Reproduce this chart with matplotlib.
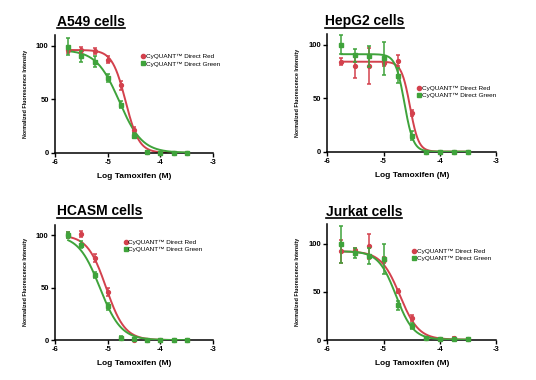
import numpy as np
import matplotlib
matplotlib.use("Agg")
import matplotlib.pyplot as plt
from matplotlib.lines import Line2D

plt.rcParams["font.family"] = ["Liberation Sans", "DejaVu Sans"]
plt.rcParams["axes.unicode_minus"] = False

# -------------------------------------------------------
# Data
# -------------------------------------------------------
log_conc = [-5.75, -5.5, -5.25, -5.0, -4.75, -4.5, -4.25, -4.0, -3.75, -3.5]

titles = ["A549 cells", "HepG2 cells", "HCASM cells", "Jurkat cells"]
series_labels = ["CyQUANT™ Direct Red", "CyQUANT™ Direct Green"]

a549_red = [96, 96, 95, 87, 63, 21, 1, 0, 0, 0]
a549_red_err = [3, 3, 3, 3, 4, 3, 1, 0, 0, 0]
a549_green = [99, 90, 85, 70, 45, 16, 1, 0, 0, 0]
a549_green_err = [8, 5, 5, 4, 3, 2, 1, 0, 0, 0]

hepg2_red = [84, 80, 80, 83, 85, 36, 0, 0, 0, 0]
hepg2_red_err = [3, 11, 17, 3, 5, 3, 0, 0, 0, 0]
hepg2_green = [100, 90, 89, 87, 71, 15, 0, 0, 0, 0]
hepg2_green_err = [9, 6, 10, 15, 7, 4, 1, 0, 0, 0]

hcasm_red = [100, 101, 78, 46, 2, 0, 0, 0, 0, 0]
hcasm_red_err = [3, 3, 4, 4, 1, 0, 0, 0, 0, 0]
hcasm_green = [100, 91, 62, 32, 2, 1, 0, 0, 0, 0]
hcasm_green_err = [3, 3, 3, 3, 2, 1, 0, 0, 0, 0]

jurkat_red = [92, 93, 97, 83, 51, 23, 2, 1, 2, 1]
jurkat_red_err = [12, 2, 13, 3, 2, 3, 1, 1, 1, 1]
jurkat_green = [99, 90, 87, 84, 36, 15, 2, 1, 1, 1]
jurkat_green_err = [19, 5, 8, 16, 5, 3, 1, 1, 1, 1]

# fitted sigmoid parameters: top, bottom, logIC50, hill slope
a549_red_fit = [96, 0, -4.66, 3.4]
a549_green_fit = [96, 0, -4.78, 2.0]
hepg2_red_fit = [84, 0, -4.53, 5.7]
hepg2_green_fit = [91, 0, -4.63, 5.5]
hcasm_red_fit = [100, 0, -5.03, 2.45]
hcasm_green_fit = [100, 0, -5.15, 2.15]
jurkat_red_fit = [92, 0.5, -4.71, 2.6]
jurkat_green_fit = [92, 0.5, -4.78, 2.8]

y_tops = [110, 110, 110, 120]

# -------------------------------------------------------
# Layout / style
# -------------------------------------------------------
red = "#d3414d"
green = "#3fa33b"

axes_pos = [
    [0.1026, 0.598, 0.295, 0.310],
    [0.6106, 0.601, 0.315, 0.310],
    [0.1026, 0.105, 0.295, 0.304],
    [0.6106, 0.105, 0.315, 0.305],
]
legend_anchor = [(0.53, 0.86), (0.52, 0.58), (0.42, 0.89), (0.49, 0.81)]
title_pos = [(0.106, 0.932), (0.606, 0.934), (0.106, 0.434), (0.608, 0.432)]

panels = [
    (a549_red, a549_red_err, a549_green, a549_green_err, a549_red_fit, a549_green_fit),
    (hepg2_red, hepg2_red_err, hepg2_green, hepg2_green_err, hepg2_red_fit, hepg2_green_fit),
    (hcasm_red, hcasm_red_err, hcasm_green, hcasm_green_err, hcasm_red_fit, hcasm_green_fit),
    (jurkat_red, jurkat_red_err, jurkat_green, jurkat_green_err, jurkat_red_fit, jurkat_green_fit),
]


def sigmoid(x, p):
    top, bottom, ic50, hill = p
    return bottom + (top - bottom) / (1 + 10 ** ((x - ic50) * hill))


fig = plt.figure(figsize=(5.36, 3.80), dpi=100)
x_fit = np.linspace(log_conc[0], log_conc[-1], 300)
title_texts = []

for i, (r, r_err, g, g_err, r_fit, g_fit) in enumerate(panels):
    ax = fig.add_axes(axes_pos[i])

    ax.plot(x_fit, sigmoid(x_fit, r_fit), color=red, lw=1.4, zorder=2)
    ax.plot(x_fit, sigmoid(x_fit, g_fit), color=green, lw=1.4, zorder=3)

    ax.errorbar(log_conc, r, yerr=r_err, fmt="o", color=red, ms=2.8,
                elinewidth=1.1, capsize=1.6, capthick=1.1, zorder=4,
                clip_on=False)
    ax.errorbar(log_conc, g, yerr=g_err, fmt="s", color=green, ms=2.5,
                elinewidth=1.1, capsize=1.6, capthick=1.1, zorder=5,
                clip_on=False)

    ax.set_xlim(-6, -3)
    ax.set_ylim(0, y_tops[i])
    ax.set_xticks([-6, -5, -4, -3])
    ax.set_yticks([0, 50, 100])
    ax.spines["top"].set_visible(False)
    ax.spines["right"].set_visible(False)
    for s in ["left", "bottom"]:
        ax.spines[s].set_linewidth(1.1)
    ax.tick_params(length=3, width=1.0, labelsize=5.5, pad=1.5)
    for lab in ax.get_xticklabels() + ax.get_yticklabels():
        lab.set_fontweight("bold")

    ax.set_xlabel("Log Tamoxifen (M)", fontsize=6, fontweight="bold", labelpad=5)
    ax.set_ylabel("Normalized Fluorescence Intensity", fontsize=3.8,
                  fontweight="bold", labelpad=6)

    handles = [
        Line2D([], [], color=red, marker="o", ls="none", ms=3),
        Line2D([], [], color=green, marker="s", ls="none", ms=3),
    ]
    ax.legend(handles, series_labels, loc="upper left",
              bbox_to_anchor=legend_anchor[i], frameon=False, fontsize=4.6,
              handlelength=0.5, handletextpad=0.2, labelspacing=0.25,
              borderaxespad=0)

    t = fig.text(title_pos[i][0], title_pos[i][1], titles[i], fontsize=10,
                 fontweight="bold", ha="left", va="baseline")
    title_texts.append(t)

# -------------------------------------------------------
# Underline the panel titles
# -------------------------------------------------------
fig.canvas.draw()
renderer = fig.canvas.get_renderer()
for t in title_texts:
    bb = t.get_window_extent(renderer).transformed(fig.transFigure.inverted())
    x0, y0 = t.get_position()
    yl = y0 - 2.5 / 380
    fig.add_artist(Line2D([bb.x0, bb.x1], [yl, yl], color="black", lw=1.2,
                          transform=fig.transFigure))

fig.savefig("out.png", dpi=100)
